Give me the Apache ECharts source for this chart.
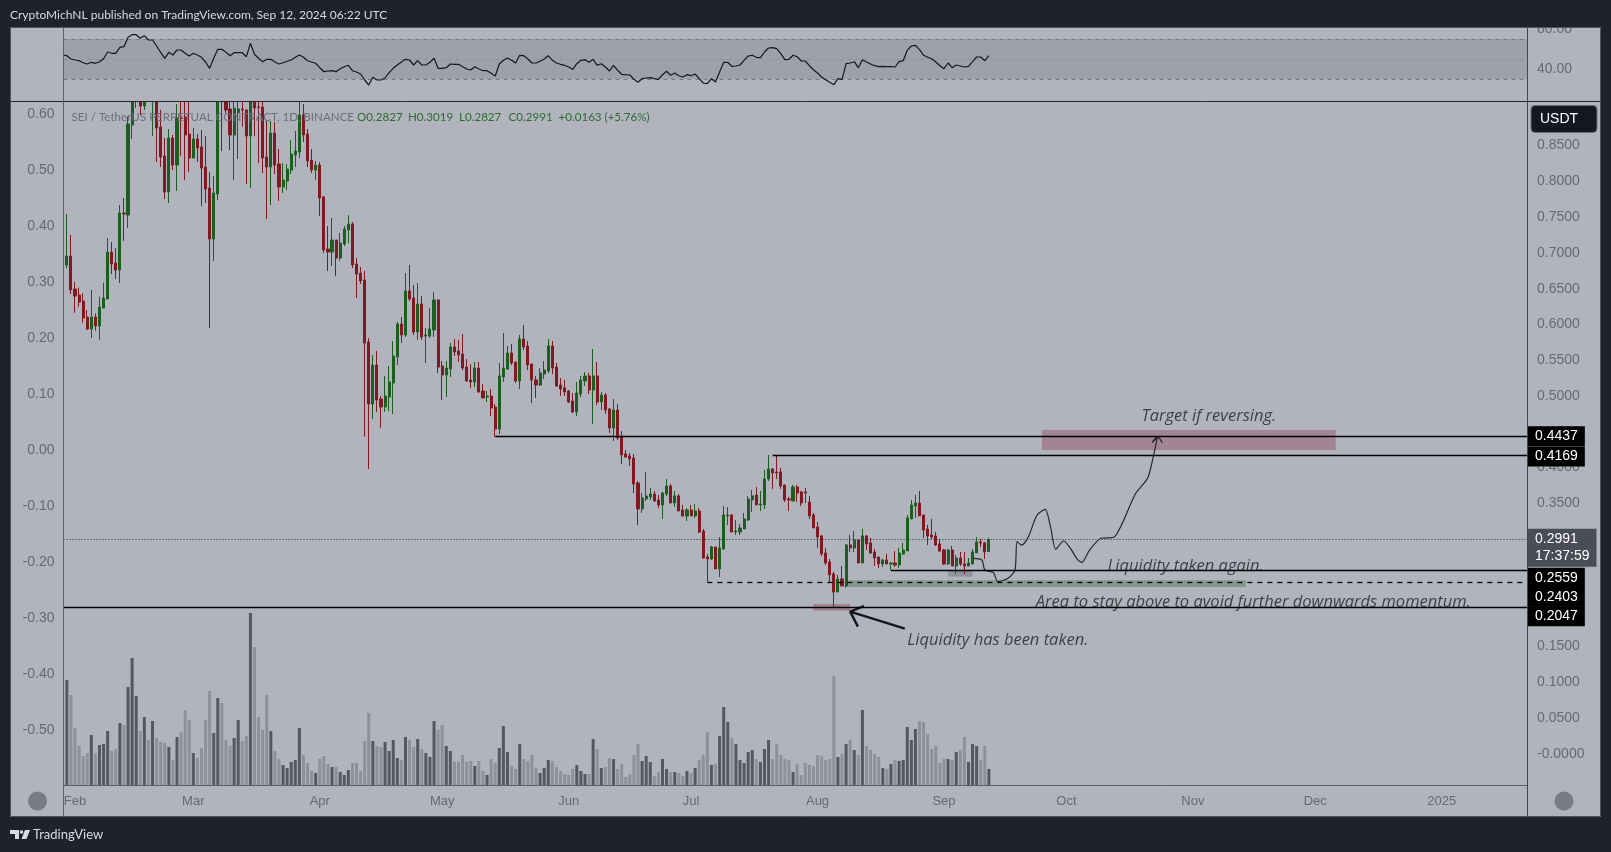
<!DOCTYPE html>
<html>
<head>
<meta charset="utf-8">
<title>SEI / TetherUS</title>
<style>
html, body { margin: 0; padding: 0; background: #1e222d; }
#chart { width: 1611px; height: 852px; }
</style>
<script src="https://cdn.jsdelivr.net/npm/echarts@6/dist/echarts.min.js"></script>
</head>
<body>
<div id="chart"></div>
<script>
// daily candles, Jan 29 to Sep 12 2024, one row per month
var firstDay = "2024-01-29";

var opens = [
    0.6537, 0.6830, 0.6956,
    0.6495, 0.6411, 0.6327, 0.6103, 0.5936, 0.6103, 0.5978, 0.6229, 0.6355, 0.7012, 0.6858, 0.6760, 0.7557, 0.7529, 0.8787, 0.9200, 0.9500, 0.9053, 1.0000, 0.9400, 0.9500, 0.8760, 0.8354, 0.7851, 0.8606, 0.8228, 0.8885, 0.8899, 0.8662,
    0.8326, 0.8592, 0.8480, 0.8200, 0.7907, 0.7194, 0.7823, 0.9800, 0.9600, 0.9011, 0.8648, 0.8960, 0.9011, 0.8997, 0.8634, 0.9800, 0.9040, 0.9039, 0.8340, 0.8200, 0.8676, 0.8242, 0.7921, 0.8005, 0.8158, 0.8368, 0.8410, 0.8927, 0.8662, 0.8298, 0.8158,
    0.8228, 0.7781, 0.7054, 0.7012, 0.7180, 0.6928, 0.7124, 0.7320, 0.7403, 0.6844, 0.6718, 0.6622, 0.5755, 0.4888, 0.5433, 0.4958, 0.4846, 0.4986, 0.5182, 0.5545, 0.6006, 0.5853, 0.6468, 0.6370, 0.5895, 0.6286, 0.5839, 0.5839, 0.5923, 0.6342,
    0.5419, 0.5293, 0.5377, 0.5685, 0.5629, 0.5587, 0.5405, 0.5224, 0.5196, 0.5391, 0.5070, 0.4986, 0.5000, 0.4846, 0.4539, 0.5266, 0.5377, 0.5601, 0.5475, 0.5210, 0.5797, 0.5699, 0.5447, 0.5224, 0.5154, 0.5307, 0.5349, 0.5699, 0.5405, 0.5154, 0.5112,
    0.5070, 0.4930, 0.4776, 0.5028, 0.5210, 0.5280, 0.5084, 0.5280, 0.4916, 0.5014, 0.4818, 0.4553, 0.4804, 0.4427, 0.4190, 0.4162, 0.4134, 0.3784, 0.3421, 0.3561, 0.3589, 0.3630, 0.3547, 0.3477, 0.3630, 0.3742, 0.3505, 0.3603, 0.3407, 0.3323,
    0.3407, 0.3323, 0.3393, 0.3113, 0.2750, 0.2722, 0.2890, 0.2582, 0.2862, 0.3323, 0.3337, 0.3099, 0.3099, 0.3141, 0.3267, 0.3547, 0.3617, 0.3477, 0.3477, 0.3840, 0.3980, 0.3938, 0.3938, 0.3756, 0.3561, 0.3533, 0.3728, 0.3659, 0.3659, 0.3519, 0.3337,
    0.3170, 0.3044, 0.2806, 0.2680, 0.2513, 0.2261, 0.2443, 0.2345, 0.2918, 0.2876, 0.2988, 0.2666, 0.3044, 0.2946, 0.2820, 0.2750, 0.2652, 0.2708, 0.2652, 0.2666, 0.2638, 0.2792, 0.2834, 0.3282, 0.3463, 0.3505, 0.3337, 0.3142, 0.3058, 0.3044, 0.2932,
    0.2848, 0.2652, 0.2848, 0.2624, 0.2736, 0.2652, 0.2624, 0.2652, 0.2806, 0.2960, 0.2946, 0.2827
];
var closes = [
    0.6854, 0.6956, 0.6481,
    0.6397, 0.6313, 0.6089, 0.5936, 0.6103, 0.5978, 0.6243, 0.6369, 0.7012, 0.6844, 0.6760, 0.7557, 0.7543, 0.8801, 0.9600, 1.0000, 0.9053, 0.9700, 0.9700, 0.9800, 0.8746, 0.8340, 0.7851, 0.8606, 0.8228, 0.8885, 0.8880, 0.8648, 0.8326,
    0.8592, 0.8466, 0.8186, 0.7893, 0.7194, 0.7837, 0.9300, 0.9300, 0.8997, 0.8648, 0.9021, 0.9011, 0.8997, 0.8634, 0.9800, 0.9025, 0.9035, 0.8326, 0.8200, 0.8676, 0.8228, 0.7921, 0.8019, 0.8172, 0.8382, 0.8424, 0.8927, 0.8648, 0.8284, 0.8158, 0.8228,
    0.7767, 0.7040, 0.7012, 0.7180, 0.6928, 0.7138, 0.7334, 0.7403, 0.6830, 0.6704, 0.6607, 0.5741, 0.4888, 0.5433, 0.4944, 0.4846, 0.5000, 0.5196, 0.5559, 0.6006, 0.5853, 0.6468, 0.6356, 0.5895, 0.6286, 0.5825, 0.5853, 0.5937, 0.6342, 0.5405,
    0.5293, 0.5391, 0.5685, 0.5615, 0.5573, 0.5391, 0.5210, 0.5196, 0.5391, 0.5056, 0.4972, 0.5000, 0.4832, 0.4539, 0.5280, 0.5391, 0.5601, 0.5461, 0.5210, 0.5797, 0.5685, 0.5433, 0.5224, 0.5154, 0.5321, 0.5363, 0.5699, 0.5391, 0.5140, 0.5098, 0.5056,
    0.4916, 0.4776, 0.5042, 0.5224, 0.5280, 0.5084, 0.5280, 0.4916, 0.5014, 0.4804, 0.4553, 0.4804, 0.4413, 0.4176, 0.4148, 0.4120, 0.3770, 0.3421, 0.3575, 0.3603, 0.3630, 0.3533, 0.3477, 0.3644, 0.3742, 0.3505, 0.3603, 0.3393, 0.3323, 0.3407,
    0.3323, 0.3393, 0.3099, 0.2736, 0.2722, 0.2890, 0.2582, 0.2876, 0.3337, 0.3337, 0.3099, 0.3113, 0.3155, 0.3281, 0.3561, 0.3603, 0.3477, 0.3491, 0.3840, 0.3980, 0.3924, 0.3924, 0.3742, 0.3547, 0.3547, 0.3728, 0.3644, 0.3505, 0.3645, 0.3324, 0.3156,
    0.3030, 0.2792, 0.2666, 0.2499, 0.2261, 0.2443, 0.2345, 0.2918, 0.2876, 0.2988, 0.2666, 0.3044, 0.2932, 0.2806, 0.2736, 0.2652, 0.2708, 0.2652, 0.2666, 0.2638, 0.2806, 0.2848, 0.3296, 0.3477, 0.3505, 0.3324, 0.3128, 0.3044, 0.3030, 0.2918, 0.2834,
    0.2652, 0.2848, 0.2624, 0.2736, 0.2652, 0.2624, 0.2666, 0.2820, 0.2960, 0.2946, 0.2820, 0.2991
];
var lows = [
    0.6537, 0.6784, 0.6425,
    0.6164, 0.6248, 0.6024, 0.5922, 0.5810, 0.5912, 0.5782, 0.6229, 0.6355, 0.6704, 0.6635, 0.6579, 0.7166, 0.7348, 0.8592, 0.9025, 0.8927, 0.8997, 0.9300, 0.8634, 0.8270, 0.8200, 0.7753, 0.7697, 0.8158, 0.7865, 0.8354, 0.8019, 0.8130,
    0.8326, 0.8270, 0.7655, 0.7697, 0.5950, 0.6886, 0.7739, 0.8424, 0.8950, 0.8438, 0.8019, 0.8312, 0.8764, 0.7963, 0.7907, 0.8634, 0.8256, 0.8116, 0.7473, 0.7669, 0.8102, 0.7725, 0.7837, 0.7879, 0.8102, 0.8200, 0.8326, 0.8550, 0.8200, 0.8116, 0.8019,
    0.7515, 0.6998, 0.6746, 0.6816, 0.6677, 0.6886, 0.7096, 0.7138, 0.6788, 0.6369, 0.6565, 0.4431, 0.3979, 0.4678, 0.4776, 0.4553, 0.4776, 0.4790, 0.4748, 0.5433, 0.5741, 0.5825, 0.6328, 0.5853, 0.5783, 0.5783, 0.5461, 0.5811, 0.5825, 0.5321,
    0.4944, 0.4986, 0.5266, 0.5559, 0.5475, 0.5363, 0.5196, 0.5112, 0.5126, 0.5042, 0.4972, 0.4916, 0.4720, 0.4431, 0.4469, 0.5196, 0.5363, 0.5433, 0.5182, 0.5098, 0.5643, 0.5363, 0.4902, 0.4972, 0.5140, 0.5238, 0.5321, 0.5307, 0.5126, 0.5000, 0.5000,
    0.4902, 0.4762, 0.4720, 0.4986, 0.5140, 0.5028, 0.4608, 0.4874, 0.4804, 0.4748, 0.4483, 0.4371, 0.4385, 0.4050, 0.4134, 0.4022, 0.3644, 0.3197, 0.3365, 0.3533, 0.3547, 0.3519, 0.3435, 0.3281, 0.3603, 0.3505, 0.3449, 0.3393, 0.3309, 0.3253,
    0.3323, 0.3295, 0.3085, 0.2722, 0.2403, 0.2708, 0.2582, 0.2470, 0.2848, 0.3197, 0.3099, 0.3057, 0.3057, 0.3141, 0.3253, 0.3379, 0.3477, 0.3393, 0.3421, 0.3812, 0.3700, 0.3840, 0.3700, 0.3519, 0.3393, 0.3533, 0.3519, 0.3463, 0.3505, 0.3282, 0.3156,
    0.2876, 0.2764, 0.2638, 0.2401, 0.2047, 0.2261, 0.2345, 0.2317, 0.2820, 0.2820, 0.2666, 0.2666, 0.2848, 0.2792, 0.2624, 0.2596, 0.2610, 0.2652, 0.2564, 0.2610, 0.2596, 0.2778, 0.2834, 0.3282, 0.3296, 0.3324, 0.3016, 0.2918, 0.3002, 0.2904, 0.2820,
    0.2638, 0.2638, 0.2624, 0.2513, 0.2624, 0.2513, 0.2624, 0.2652, 0.2806, 0.2890, 0.2722, 0.2827
];
var highs = [
    0.6854, 0.7543, 0.7250,
    0.6597, 0.6513, 0.6434, 0.6201, 0.6481, 0.6155, 0.6388, 0.6583, 0.7208, 0.7152, 0.7068, 0.7669, 0.7767, 0.8904, 0.9800, 1.0300, 0.9800, 0.9900, 1.0400, 1.0000, 0.9800, 0.9000, 0.8606, 0.8732, 0.8648, 0.9081, 0.9114, 0.9114, 0.9114,
    0.8746, 0.8662, 0.8718, 0.8634, 0.8130, 0.8075, 0.9700, 1.0000, 0.9900, 0.9300, 0.9300, 0.9300, 0.9300, 0.9011, 1.0200, 1.0200, 0.9300, 0.9114, 0.8843, 0.8843, 0.8829, 0.8452, 0.8256, 0.8242, 0.8578, 0.8704, 0.9123, 0.9081, 0.8732, 0.8452, 0.8284,
    0.8270, 0.7795, 0.7376, 0.7487, 0.7180, 0.7278, 0.7376, 0.7529, 0.7431, 0.6928, 0.6802, 0.6747, 0.5811, 0.5573, 0.5629, 0.5000, 0.5280, 0.5419, 0.5769, 0.6034, 0.6104, 0.6719, 0.6831, 0.6552, 0.6580, 0.6398, 0.5951, 0.6230, 0.6454, 0.6356,
    0.5489, 0.5489, 0.5741, 0.5797, 0.5783, 0.5867, 0.5517, 0.5447, 0.5475, 0.5475, 0.5168, 0.5070, 0.5098, 0.4888, 0.5461, 0.5881, 0.5699, 0.5727, 0.5475, 0.5853, 0.5992, 0.5769, 0.5447, 0.5280, 0.5391, 0.5489, 0.5797, 0.5769, 0.5461, 0.5252, 0.5224,
    0.5084, 0.5042, 0.5196, 0.5280, 0.5335, 0.5321, 0.5657, 0.5475, 0.5056, 0.5042, 0.4832, 0.4958, 0.4888, 0.4511, 0.4246, 0.4204, 0.4190, 0.3812, 0.3644, 0.3938, 0.3714, 0.3672, 0.3617, 0.3658, 0.3840, 0.3770, 0.3672, 0.3630, 0.3477, 0.3435,
    0.3477, 0.3491, 0.3435, 0.3141, 0.2792, 0.2904, 0.2890, 0.3029, 0.3463, 0.3449, 0.3351, 0.3267, 0.3211, 0.3365, 0.3603, 0.3686, 0.3728, 0.3672, 0.3966, 0.4176, 0.3994, 0.4176, 0.3994, 0.3756, 0.3589, 0.3756, 0.3756, 0.3673, 0.3715, 0.3603, 0.3365,
    0.3240, 0.3058, 0.2876, 0.2722, 0.2541, 0.2499, 0.2625, 0.2932, 0.3058, 0.3114, 0.2988, 0.3142, 0.3058, 0.3016, 0.2862, 0.2750, 0.2722, 0.2792, 0.2680, 0.2834, 0.2876, 0.2946, 0.3337, 0.3547, 0.3617, 0.3673, 0.3337, 0.3198, 0.3282, 0.3100, 0.3002,
    0.2862, 0.2862, 0.2904, 0.2778, 0.2820, 0.2820, 0.2736, 0.2862, 0.3030, 0.3002, 0.2960, 0.3019
];
var volumes = [
    null, 31.5, 27.0,
    17.1, 11.7, 8.7, 9.5, 15.0, 9.5, 12.0, 12.3, 16.2, 10.2, 10.8, 18.6, 18.0, 29.4, 38.1, 26.7, 16.2, 20.4, 13.5, 19.2, 14.1, 12.9, 12.6, 11.4, 7.5, 14.4, 15.9, 22.5, 19.5,
    9.6, 8.1, 11.1, 19.5, 28.2, 15.6, 26.1, 24.6, 13.5, 11.7, 14.1, 19.5, 13.2, 14.7, 51.6, 41.4, 20.4, 16.5, 27.0, 16.2, 10.2, 7.8, 6.0, 5.1, 6.9, 7.5, 17.1, 9.0, 6.6, 4.2, 3.6,
    7.8, 8.7, 6.3, 5.4, 5.4, 3.9, 3.0, 4.5, 6.6, 6.6, 4.2, 13.2, 21.6, 13.2, 11.7, 11.4, 12.9, 10.2, 13.5, 8.1, 7.5, 14.4, 13.5, 11.4, 13.8, 10.8, 9.6, 8.4, 19.2, 16.5,
    18.0, 11.7, 10.2, 6.9, 6.9, 9.0, 6.9, 7.2, 5.7, 7.2, 4.2, 3.0, 7.8, 6.6, 11.1, 17.7, 9.9, 5.7, 4.8, 12.3, 7.8, 7.2, 9.0, 5.1, 3.6, 5.1, 7.5, 7.2, 5.4, 4.2, 3.3,
    3.0, 4.8, 6.0, 4.2, 3.3, 3.3, 13.8, 10.8, 5.1, 5.4, 8.1, 7.8, 4.8, 6.3, 2.4, 3.3, 9.0, 12.3, 7.2, 8.7, 6.9, 2.7, 3.9, 7.8, 4.8, 3.9, 3.9, 3.6, 2.7, 4.2,
    3.6, 5.1, 7.5, 9.0, 15.9, 6.0, 6.3, 14.7, 23.4, 18.9, 14.1, 12.3, 7.5, 6.6, 9.9, 10.5, 7.8, 6.9, 10.8, 13.5, 7.8, 12.3, 9.0, 7.8, 7.5, 3.9, 6.3, 3.0, 6.6, 6.0, 5.7,
    9.0, 8.7, 7.5, 7.8, 32.7, 8.4, 9.3, 12.3, 13.5, 10.5, 9.0, 22.5, 11.7, 10.5, 9.3, 8.4, 5.1, 4.8, 6.3, 7.5, 7.2, 7.5, 17.4, 13.5, 16.8, 19.2, 18.9, 15.3, 10.8, 11.7, 6.6,
    7.8, 7.8, 7.5, 9.9, 10.5, 14.4, 6.9, 12.3, 11.7, 7.5, 11.7, 4.8
];
var rsiValues = [
    54.0, 53.3, 50.0,
    49.0, 48.3, 46.3, 45.0, 46.7, 45.7, 47.3, 50.3, 57.0, 55.7, 55.7, 61.7, 62.3, 71.7, 74.3, 74.3, 70.7, 73.3, 69.0, 69.0, 63.0, 56.7, 50.7, 56.7, 54.0, 59.0, 59.0, 55.7, 53.0,
    55.7, 54.0, 51.7, 47.0, 40.7, 50.7, 59.7, 59.7, 56.7, 53.3, 56.3, 56.3, 56.3, 52.3, 65.7, 54.7, 50.7, 47.3, 49.7, 49.7, 47.0, 45.0, 46.3, 47.7, 49.0, 51.7, 54.0, 51.7, 48.3, 47.0, 45.7,
    41.3, 37.3, 38.0, 38.3, 37.3, 40.3, 42.3, 43.7, 38.3, 37.0, 35.0, 29.0, 24.0, 31.7, 29.0, 29.0, 31.0, 36.3, 40.7, 44.0, 47.0, 49.7, 49.0, 44.0, 48.3, 44.0, 44.0, 46.7, 50.7, 40.7,
    40.7, 41.3, 45.0, 44.7, 44.7, 42.3, 40.0, 39.0, 42.3, 40.0, 38.3, 38.3, 35.7, 33.0, 45.0, 48.7, 51.0, 48.7, 46.0, 53.7, 53.3, 50.0, 46.0, 46.0, 47.7, 50.0, 53.3, 48.7, 46.0, 44.7, 43.7,
    42.0, 39.7, 45.3, 48.7, 49.3, 46.7, 49.7, 43.7, 45.3, 42.0, 38.0, 43.7, 38.7, 34.7, 34.3, 34.0, 29.7, 26.7, 30.3, 31.0, 31.3, 30.3, 29.7, 34.3, 37.7, 33.7, 36.0, 33.3, 32.0, 34.3,
    33.3, 35.0, 30.3, 26.0, 25.3, 30.3, 27.0, 37.0, 46.7, 46.7, 42.7, 43.0, 44.0, 48.7, 53.0, 53.7, 51.7, 51.3, 57.0, 61.0, 61.3, 60.3, 55.3, 49.3, 49.7, 53.7, 52.3, 48.0, 48.0, 43.3, 39.3,
    36.0, 32.0, 29.3, 26.7, 24.3, 30.3, 29.3, 45.3, 46.0, 47.3, 41.3, 49.3, 47.0, 45.0, 43.3, 42.3, 42.7, 42.3, 42.3, 42.0, 47.3, 48.3, 58.7, 63.0, 63.7, 59.3, 53.7, 51.7, 50.3, 47.0, 43.3,
    40.3, 46.0, 41.3, 44.0, 43.0, 42.0, 42.7, 47.3, 52.0, 52.0, 48.3, 53.3
];

// axis ticks
var leftTicks = [0.6, 0.5, 0.4, 0.3, 0.2, 0.1, 0, -0.1, -0.2, -0.3, -0.4, -0.5];
var rightTicks = [0.85, 0.8, 0.75, 0.7, 0.65, 0.6, 0.55, 0.5, 0.45, 0.4, 0.35, 0.15, 0.1, 0.05, 0];
var rsiTicks = [80, 40];
var monthTicks = ["2024-02-01", "2024-03-01", "2024-04-01", "2024-05-01", "2024-06-01", "2024-07-01", "2024-08-01", "2024-09-01", "2024-10-01", "2024-11-01", "2024-12-01", "2025-01-01"];
var monthLabels = ["Feb", "Mar", "Apr", "May", "Jun", "Jul", "Aug", "Sep", "Oct", "Nov", "Dec", "2025"];

// drawn levels
var levelNames = ["0.4437", "0.4169", "0.2991\n17:37:59", "0.2559", "0.2403", "0.2047"];
var levelPrices = [0.4437, 0.4169, 0.2991, 0.2559, 0.2403, 0.2047];
var levelStarts = ["2024-05-14", "2024-07-21", "2024-01-28", "2024-08-19", "2024-07-05", "2024-01-28"];

// drawn boxes: target, stay-above area, liquidity taken, liquidity taken again
var zoneStarts = ["2024-09-25", "2024-08-08", "2024-07-31", "2024-09-02"];
var zoneEnds = ["2024-12-06", "2024-11-14", "2024-08-09", "2024-09-08"];
var zoneTops = [0.4525, 0.2424, 0.2093, 0.2568];
var zoneBottoms = [0.4246, 0.2331, 0.2000, 0.2475];

// hand drawn projection, in days after Feb 1 2024
var pathDays = [220.2, 222.3, 223.0, 225.1, 226.2, 228.7, 230.4, 230.9, 232.0, 233.7, 235.8, 237.8, 239.1, 240.4, 242.3, 243.7, 245.8, 246.8, 248.7, 251.5, 254.6, 256.5, 260.0, 262.9, 264.3, 265.3, 264.0, 265.3, 266.5];
var pathPrices = [0.2731, 0.2708, 0.2568, 0.2531, 0.2405, 0.2452, 0.2568, 0.2964, 0.2917, 0.3034, 0.3337, 0.3416, 0.3174, 0.2857, 0.2973, 0.2894, 0.2708, 0.2675, 0.2848, 0.3011, 0.3025, 0.3197, 0.3640, 0.3849, 0.4152, 0.4422, 0.4348, 0.4432, 0.4348];
var arrowDays = [203.4, 190.0, 193.4, 190.0, 191.9];
var arrowPrices = [0.1748, 0.1986, 0.2065, 0.1986, 0.1776];

var noteTexts = ["Target if reversing.", "Liquidity taken again.", "Area to stay above to avoid further downwards momentum.", "Liquidity has been taken."];
var noteDays = [277.9, 272.2, 288.8, 226.2];
var notePrices = [0.4721, 0.2615, 0.2111, 0.1580];

var DAY = 86400000;
var FEB1 = Date.parse("2024-02-01");
var axisMin = -2.82;
var axisMax = 355.9;

var bg = "#1e222d";
var pane = "#b1b4bd";
var axisText = "#666974";
var lineDark = "#23262f";
var green = "#1b5e20";
var red = "#801922";
var font = "Liberation Sans";
var smallFont = "Lato";

// x axis counts days after Feb 1 2024
function dayOf(dateText) {
    return (Date.parse(dateText) - FEB1) / DAY;
}

var candleData = [];
var volumeData = [];
var rsiData = [];
for (var i = 0; i < opens.length; i++) {
    var d = dayOf(firstDay) + i;
    candleData.push([d, opens[i], closes[i], lows[i], highs[i]]);
    volumeData.push({
        value: [d, volumes[i]],
        itemStyle: { color: closes[i] >= opens[i] ? "#55585f" : "#8e919b" },
    });
    rsiData.push([d, rsiValues[i]]);
}

// right side price boxes sit a little off their level when they would collide
var levelOffsets = [0, 1, 8, 7, 15, 9];
var levelLines = levelPrices.map(function (p, idx) {
    var isLast = idx === 2;
    return [
        {
            coord: [Math.max(dayOf(levelStarts[idx]), axisMin), p],
            lineStyle: {
                color: isLast ? "#2f3138" : "#000000",
                width: isLast ? 1 : 1.3,
                type: isLast ? [1, 2] : idx === 4 ? [5, 5] : "solid",
            },
            label: {
                show: true,
                position: "end",
                distance: 1,
                formatter: levelNames[idx],
                color: "#ffffff",
                fontFamily: font,
                fontSize: 14,
                lineHeight: isLast ? 17 : 14,
                backgroundColor: isLast ? "#4a4d58" : "#000000",
                padding: isLast ? [2, 7] : [3, 7],
                align: "left",
                offset: [0, levelOffsets[idx]],
            },
        },
        { coord: [axisMax, p] },
    ];
});

var zoneColors = ["rgba(128,25,50,0.3)", "rgba(27,94,32,0.3)", "rgba(128,25,50,0.3)", "rgba(70,72,85,0.3)"];
var zoneAreas = zoneStarts.map(function (s, idx) {
    return [
        { coord: [dayOf(s), zoneTops[idx]], itemStyle: { color: zoneColors[idx] } },
        { coord: [dayOf(zoneEnds[idx]), zoneBottoms[idx]] },
    ];
});

var pathData = pathDays.map(function (d, idx) {
    return [d, pathPrices[idx]];
});
var arrowData = arrowDays.map(function (d, idx) {
    return [d, arrowPrices[idx]];
});
var noteData = noteTexts.map(function (txt, idx) {
    return {
        value: [noteDays[idx], notePrices[idx]],
        label: { formatter: txt },
    };
});

function hiddenX(gridIndex) {
    return { type: "value", gridIndex: gridIndex, min: axisMin, max: axisMax, show: false };
}

function legendText(text, x, color) {
    return {
        type: "text",
        z: 20,
        x: x,
        y: 117,
        style: { text: text, fill: color, font: "11.6px " + smallFont, textVerticalAlign: "middle" },
    };
}

var myChart = echarts.init(document.getElementById("chart"));

var option = {
    animation: false,
    backgroundColor: bg,
    textStyle: { fontFamily: font },
    grid: [
        { left: 63.5, width: 1463.5, top: 27, height: 74 },
        { left: 63.5, width: 1463.5, top: 101, height: 684 },
        { left: 63.5, width: 1463.5, top: 613, height: 172 },
    ],
    xAxis: [
        hiddenX(0),
        {
            type: "value",
            gridIndex: 1,
            min: axisMin,
            max: axisMax,
            splitLine: { show: false },
            axisLine: { show: true, onZero: false, lineStyle: { color: "#5d606b" } },
            axisTick: { show: false },
            axisLabel: {
                color: axisText,
                fontSize: 13,
                margin: 10,
                customValues: monthTicks.map(dayOf),
                formatter: function (value) {
                    return monthLabels[monthTicks.map(dayOf).indexOf(value)];
                },
            },
        },
        hiddenX(2),
    ],
    yAxis: [
        {
            // rsi pane
            type: "value",
            gridIndex: 0,
            position: "right",
            min: 8,
            max: 82,
            splitLine: { show: false },
            axisLine: { show: false },
            axisTick: { show: false },
            axisLabel: {
                color: axisText,
                fontSize: 14,
                margin: 10,
                padding: [4, 0, 0, 0],
                customValues: rsiTicks,
                formatter: function (v) {
                    return v.toFixed(2);
                },
            },
        },
        {
            // price, right side
            type: "value",
            gridIndex: 1,
            position: "right",
            min: -0.0437,
            max: 0.9123,
            splitLine: { show: false },
            axisLine: { show: false },
            axisTick: { show: false },
            axisLabel: {
                color: axisText,
                fontSize: 14,
                margin: 10,
                padding: [4, 0, 0, 0],
                customValues: rightTicks,
                formatter: function (v) {
                    return v === 0 ? "-0.0000" : v.toFixed(4);
                },
            },
        },
        {
            // overlay scale on the left, nothing visible is drawn on it
            type: "value",
            gridIndex: 1,
            position: "left",
            min: -0.598,
            max: 0.6232,
            splitLine: { show: false },
            axisLine: { show: false },
            axisTick: { show: false },
            axisLabel: {
                color: axisText,
                fontSize: 14,
                margin: 9,
                padding: [4, 0, 0, 0],
                customValues: leftTicks,
                formatter: function (v) {
                    return v.toFixed(2);
                },
            },
        },
        {
            // volume
            type: "value",
            gridIndex: 2,
            min: 0,
            max: 51.6,
            show: false,
        },
    ],
    series: [
        {
            name: "RSI",
            type: "line",
            xAxisIndex: 0,
            yAxisIndex: 0,
            z: 12,
            showSymbol: false,
            data: rsiData,
            lineStyle: { color: "#15171c", width: 1.2 },
            markArea: {
                silent: true,
                z: 6,
                itemStyle: { color: "#9ea1a9" },
                data: [[{ yAxis: 70 }, { yAxis: 30 }]],
            },
            markLine: {
                silent: true,
                z: 7,
                symbol: "none",
                label: { show: false },
                lineStyle: { color: "#787b86", type: [4, 4], width: 1 },
                data: [{ yAxis: 70 }, { yAxis: 50, lineStyle: { color: "#8f929c" } }, { yAxis: 30 }],
            },
        },
        {
            name: "Volume",
            type: "bar",
            xAxisIndex: 2,
            yAxisIndex: 3,
            barWidth: 3,
            data: volumeData,
        },
        {
            name: "SEIUSDT.P",
            type: "candlestick",
            xAxisIndex: 1,
            yAxisIndex: 1,
            z: 2,
            barWidth: 2.6,
            encode: { x: 0, y: [1, 2, 3, 4] },
            data: candleData,
            itemStyle: {
                color: green,
                color0: red,
                borderColor: green,
                borderColor0: red,
                borderWidth: 1,
            },
            markArea: { silent: true, data: zoneAreas },
            markLine: { silent: true, symbol: "none", z: 8, data: levelLines },
        },
        {
            name: "Projection",
            type: "line",
            xAxisIndex: 1,
            yAxisIndex: 1,
            showSymbol: false,
            smooth: 0.25,
            data: pathData,
            lineStyle: { color: "#23262f", width: 1.2 },
        },
        {
            name: "Arrow",
            type: "line",
            xAxisIndex: 1,
            yAxisIndex: 1,
            showSymbol: false,
            data: arrowData,
            lineStyle: { color: "#14161c", width: 2.4 },
        },
        {
            name: "Notes",
            type: "scatter",
            xAxisIndex: 1,
            yAxisIndex: 1,
            symbolSize: 1,
            itemStyle: { color: "rgba(0,0,0,0)" },
            data: noteData,
            label: {
                show: true,
                position: "inside",
                color: "#1f2128",
                fontFamily: "Open Sans",
                fontStyle: "italic",
                fontSize: 16.5,
            },
        },
    ],
    graphic: [
        // pane background
        { type: "rect", z: -10, shape: { x: 10, y: 27, width: 1591, height: 790 }, style: { fill: pane } },
        // candlesticks are not cut at the grid edge, these keep them inside the price pane
        { type: "rect", z: 3, shape: { x: 10, y: 27, width: 1517, height: 74 }, style: { fill: pane } },
        { type: "rect", z: 3, shape: { x: 58, y: 101, width: 5.5, height: 684 }, style: { fill: pane } },
        // separators
        { type: "line", z: 15, shape: { x1: 10, y1: 101.5, x2: 1601, y2: 101.5 }, style: { stroke: lineDark, lineWidth: 1 } },
        { type: "line", z: 15, shape: { x1: 63.5, y1: 27, x2: 63.5, y2: 816 }, style: { stroke: "#5d606b", lineWidth: 1 } },
        { type: "line", z: 15, shape: { x1: 1527.5, y1: 27, x2: 1527.5, y2: 816 }, style: { stroke: "#44474f", lineWidth: 1 } },
        { type: "rect", z: 15, shape: { x: 10.5, y: 27.5, width: 1590, height: 789 }, style: { fill: "none", stroke: "#50535e", lineWidth: 1 } },
        // header over the clipped 80.00 label
        { type: "rect", z: 100, shape: { x: 0, y: 0, width: 1611, height: 27 }, style: { fill: bg } },
        {
            type: "text",
            z: 101,
            x: 10,
            y: 15,
            style: {
                text: "CryptoMichNL published on TradingView.com, Sep 12, 2024 06:22 UTC",
                fill: "#d8dbe2",
                font: "12px " + smallFont,
                textVerticalAlign: "middle",
            },
        },
        // legend
        legendText("SEI / TetherUS PERPETUAL CONTRACT, 1D, BINANCE", 71.5, "#6c6f7a"),
        legendText("O0.2827", 357, "#2b6b30"),
        legendText("H0.3019", 408, "#2b6b30"),
        legendText("L0.2827", 459, "#2b6b30"),
        legendText("C0.2991", 508.5, "#2b6b30"),
        legendText("+0.0163 (+5.76%)", 558.5, "#2b6b30"),
        // currency badge
        {
            type: "rect",
            z: 50,
            shape: { x: 1531, y: 105.5, width: 66, height: 27, r: 4 },
            style: { fill: "#131722", stroke: "#6a6d78", lineWidth: 1 },
        },
        {
            type: "text",
            z: 51,
            x: 1540,
            y: 119,
            style: { text: "USDT", fill: "#ffffff", font: "14px " + font, textVerticalAlign: "middle" },
        },
        // corner buttons
        { type: "circle", z: 20, shape: { cx: 37.5, cy: 801, r: 9.5 }, style: { fill: "#787b86" } },
        { type: "circle", z: 20, shape: { cx: 1564, cy: 801, r: 9.5 }, style: { fill: "#787b86" } },
        // footer logo
        {
            type: "polygon",
            z: 20,
            shape: { points: [[10, 830], [19, 830], [19, 839], [15, 839], [15, 834], [10, 834]] },
            style: { fill: "#d8dbe2" },
        },
        {
            type: "polygon",
            z: 20,
            shape: { points: [[25, 830], [30, 830], [26.5, 839], [21.5, 839]] },
            style: { fill: "#d8dbe2" },
        },
        { type: "circle", z: 20, shape: { cx: 21.5, cy: 832, r: 1.8 }, style: { fill: "#d8dbe2" } },
        {
            type: "text",
            z: 20,
            x: 33,
            y: 835,
            style: { text: "TradingView", fill: "#d8dbe2", font: "13px " + smallFont, textVerticalAlign: "middle" },
        },
    ],
};

myChart.setOption(option);
window.addEventListener("resize", function () {
    myChart.resize();
});
</script>
</body>
</html>
